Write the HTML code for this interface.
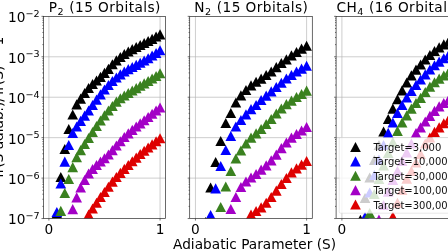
<!DOCTYPE html>
<html><head><meta charset="utf-8"><title>Adiabatic parameter plots</title>
<style>html,body{margin:0;padding:0;background:#fff;overflow:hidden}svg{display:block}</style></head>
<body>
<svg width="448" height="252" viewBox="0 0 448 252" style="display:block">
<rect width="448" height="252" fill="#fff"/>
<defs>
<clipPath id="c0"><rect x="43.50" y="16.35" width="122.05" height="202.20"/></clipPath>
<clipPath id="c1"><rect x="189.70" y="16.35" width="122.60" height="202.20"/></clipPath>
<clipPath id="c2"><rect x="336.10" y="16.35" width="122.50" height="202.20"/></clipPath>
</defs>
<path d="M43.50,178.11H165.55M43.50,137.67H165.55M43.50,97.23H165.55M43.50,56.79H165.55M48.90,16.35V218.55M160.05,16.35V218.55" stroke="#b4b4b4" stroke-width="0.65" fill="none"/>
<g clip-path="url(#c0)">
<polygon points="56.84,208.50 51.49,218.60 62.19,218.60" fill="#000000"/>
<polygon points="60.81,172.00 55.46,182.10 66.16,182.10" fill="#000000"/>
<polygon points="64.78,144.00 59.43,154.10 70.13,154.10" fill="#000000"/>
<polygon points="68.75,124.00 63.40,134.10 74.10,134.10" fill="#000000"/>
<polygon points="72.72,109.50 67.37,119.60 78.07,119.60" fill="#000000"/>
<polygon points="76.69,99.30 71.34,109.40 82.04,109.40" fill="#000000"/>
<polygon points="80.66,93.60 75.31,103.70 86.01,103.70" fill="#000000"/>
<polygon points="84.63,87.90 79.28,98.00 89.98,98.00" fill="#000000"/>
<polygon points="88.60,83.00 83.25,93.10 93.95,93.10" fill="#000000"/>
<polygon points="92.57,79.00 87.22,89.10 97.92,89.10" fill="#000000"/>
<polygon points="96.54,75.40 91.19,85.50 101.89,85.50" fill="#000000"/>
<polygon points="100.51,71.80 95.16,81.90 105.86,81.90" fill="#000000"/>
<polygon points="104.47,67.80 99.12,77.90 109.82,77.90" fill="#000000"/>
<polygon points="108.44,63.80 103.09,73.90 113.79,73.90" fill="#000000"/>
<polygon points="112.41,59.20 107.06,69.30 117.76,69.30" fill="#000000"/>
<polygon points="116.38,55.30 111.03,65.40 121.73,65.40" fill="#000000"/>
<polygon points="120.35,52.00 115.00,62.10 125.70,62.10" fill="#000000"/>
<polygon points="124.32,49.00 118.97,59.10 129.67,59.10" fill="#000000"/>
<polygon points="128.29,46.40 122.94,56.50 133.64,56.50" fill="#000000"/>
<polygon points="132.26,44.10 126.91,54.20 137.61,54.20" fill="#000000"/>
<polygon points="136.23,42.00 130.88,52.10 141.58,52.10" fill="#000000"/>
<polygon points="140.20,40.00 134.85,50.10 145.55,50.10" fill="#000000"/>
<polygon points="144.17,38.00 138.82,48.10 149.52,48.10" fill="#000000"/>
<polygon points="148.14,36.00 142.79,46.10 153.49,46.10" fill="#000000"/>
<polygon points="152.11,33.80 146.76,43.90 157.46,43.90" fill="#000000"/>
<polygon points="156.08,31.50 150.73,41.60 161.43,41.60" fill="#000000"/>
<polygon points="160.05,29.30 154.70,39.40 165.40,39.40" fill="#000000"/>
<polygon points="56.84,206.90 51.49,217.00 62.19,217.00" fill="#0000ff"/>
<polygon points="60.81,178.40 55.46,188.50 66.16,188.50" fill="#0000ff"/>
<polygon points="64.78,156.60 59.43,166.70 70.13,166.70" fill="#0000ff"/>
<polygon points="68.75,139.90 63.40,150.00 74.10,150.00" fill="#0000ff"/>
<polygon points="72.72,128.00 67.37,138.10 78.07,138.10" fill="#0000ff"/>
<polygon points="76.69,121.40 71.34,131.50 82.04,131.50" fill="#0000ff"/>
<polygon points="80.66,115.80 75.31,125.90 86.01,125.90" fill="#0000ff"/>
<polygon points="84.63,110.60 79.28,120.70 89.98,120.70" fill="#0000ff"/>
<polygon points="88.60,105.40 83.25,115.50 93.95,115.50" fill="#0000ff"/>
<polygon points="92.57,100.00 87.22,110.10 97.92,110.10" fill="#0000ff"/>
<polygon points="96.54,94.60 91.19,104.70 101.89,104.70" fill="#0000ff"/>
<polygon points="100.51,89.30 95.16,99.40 105.86,99.40" fill="#0000ff"/>
<polygon points="104.47,84.40 99.12,94.50 109.82,94.50" fill="#0000ff"/>
<polygon points="108.44,80.00 103.09,90.10 113.79,90.10" fill="#0000ff"/>
<polygon points="112.41,76.00 107.06,86.10 117.76,86.10" fill="#0000ff"/>
<polygon points="116.38,72.50 111.03,82.60 121.73,82.60" fill="#0000ff"/>
<polygon points="120.35,69.30 115.00,79.40 125.70,79.40" fill="#0000ff"/>
<polygon points="124.32,66.40 118.97,76.50 129.67,76.50" fill="#0000ff"/>
<polygon points="128.29,64.10 122.94,74.20 133.64,74.20" fill="#0000ff"/>
<polygon points="132.26,62.00 126.91,72.10 137.61,72.10" fill="#0000ff"/>
<polygon points="136.23,59.80 130.88,69.90 141.58,69.90" fill="#0000ff"/>
<polygon points="140.20,57.70 134.85,67.80 145.55,67.80" fill="#0000ff"/>
<polygon points="144.17,55.40 138.82,65.50 149.52,65.50" fill="#0000ff"/>
<polygon points="148.14,53.20 142.79,63.30 153.49,63.30" fill="#0000ff"/>
<polygon points="152.11,50.50 146.76,60.60 157.46,60.60" fill="#0000ff"/>
<polygon points="156.08,48.00 150.73,58.10 161.43,58.10" fill="#0000ff"/>
<polygon points="160.05,45.20 154.70,55.30 165.40,55.30" fill="#0000ff"/>
<polygon points="60.81,205.80 55.46,215.90 66.16,215.90" fill="#3a811f"/>
<polygon points="64.78,188.00 59.43,198.10 70.13,198.10" fill="#3a811f"/>
<polygon points="68.75,173.90 63.40,184.00 74.10,184.00" fill="#3a811f"/>
<polygon points="72.72,162.10 67.37,172.20 78.07,172.20" fill="#3a811f"/>
<polygon points="76.69,152.20 71.34,162.30 82.04,162.30" fill="#3a811f"/>
<polygon points="80.66,145.10 75.31,155.20 86.01,155.20" fill="#3a811f"/>
<polygon points="84.63,139.00 79.28,149.10 89.98,149.10" fill="#3a811f"/>
<polygon points="88.60,132.90 83.25,143.00 93.95,143.00" fill="#3a811f"/>
<polygon points="92.57,127.00 87.22,137.10 97.92,137.10" fill="#3a811f"/>
<polygon points="96.54,121.00 91.19,131.10 101.89,131.10" fill="#3a811f"/>
<polygon points="100.51,115.50 95.16,125.60 105.86,125.60" fill="#3a811f"/>
<polygon points="104.47,110.30 99.12,120.40 109.82,120.40" fill="#3a811f"/>
<polygon points="108.44,105.50 103.09,115.60 113.79,115.60" fill="#3a811f"/>
<polygon points="112.41,101.00 107.06,111.10 117.76,111.10" fill="#3a811f"/>
<polygon points="116.38,96.60 111.03,106.70 121.73,106.70" fill="#3a811f"/>
<polygon points="120.35,93.20 115.00,103.30 125.70,103.30" fill="#3a811f"/>
<polygon points="124.32,90.50 118.97,100.60 129.67,100.60" fill="#3a811f"/>
<polygon points="128.29,87.90 122.94,98.00 133.64,98.00" fill="#3a811f"/>
<polygon points="132.26,85.50 126.91,95.60 137.61,95.60" fill="#3a811f"/>
<polygon points="136.23,83.10 130.88,93.20 141.58,93.20" fill="#3a811f"/>
<polygon points="140.20,80.70 134.85,90.80 145.55,90.80" fill="#3a811f"/>
<polygon points="144.17,78.30 138.82,88.40 149.52,88.40" fill="#3a811f"/>
<polygon points="148.14,75.90 142.79,86.00 153.49,86.00" fill="#3a811f"/>
<polygon points="152.11,73.50 146.76,83.60 157.46,83.60" fill="#3a811f"/>
<polygon points="156.08,71.00 150.73,81.10 161.43,81.10" fill="#3a811f"/>
<polygon points="160.05,68.20 154.70,78.30 165.40,78.30" fill="#3a811f"/>
<polygon points="72.72,204.10 67.37,214.20 78.07,214.20" fill="#a300c6"/>
<polygon points="76.69,192.30 71.34,202.40 82.04,202.40" fill="#a300c6"/>
<polygon points="80.66,182.50 75.31,192.60 86.01,192.60" fill="#a300c6"/>
<polygon points="84.63,175.00 79.28,185.10 89.98,185.10" fill="#a300c6"/>
<polygon points="88.60,168.50 83.25,178.60 93.95,178.60" fill="#a300c6"/>
<polygon points="92.57,163.90 87.22,174.00 97.92,174.00" fill="#a300c6"/>
<polygon points="96.54,160.00 91.19,170.10 101.89,170.10" fill="#a300c6"/>
<polygon points="100.51,156.44 95.16,166.54 105.86,166.54" fill="#a300c6"/>
<polygon points="104.47,153.13 99.12,163.23 109.82,163.23" fill="#a300c6"/>
<polygon points="108.44,149.50 103.09,159.60 113.79,159.60" fill="#a300c6"/>
<polygon points="112.41,145.10 107.06,155.20 117.76,155.20" fill="#a300c6"/>
<polygon points="116.38,140.50 111.03,150.60 121.73,150.60" fill="#a300c6"/>
<polygon points="120.35,136.13 115.00,146.23 125.70,146.23" fill="#a300c6"/>
<polygon points="124.32,132.00 118.97,142.10 129.67,142.10" fill="#a300c6"/>
<polygon points="128.29,128.28 122.94,138.38 133.64,138.38" fill="#a300c6"/>
<polygon points="132.26,124.80 126.91,134.90 137.61,134.90" fill="#a300c6"/>
<polygon points="136.23,121.50 130.88,131.60 141.58,131.60" fill="#a300c6"/>
<polygon points="140.20,118.30 134.85,128.40 145.55,128.40" fill="#a300c6"/>
<polygon points="144.17,115.16 138.82,125.26 149.52,125.26" fill="#a300c6"/>
<polygon points="148.14,112.00 142.79,122.10 153.49,122.10" fill="#a300c6"/>
<polygon points="152.11,108.68 146.76,118.78 157.46,118.78" fill="#a300c6"/>
<polygon points="156.08,105.40 150.73,115.50 161.43,115.50" fill="#a300c6"/>
<polygon points="160.05,102.40 154.70,112.50 165.40,112.50" fill="#a300c6"/>
<polygon points="88.60,209.40 83.25,219.50 93.95,219.50" fill="#de0000"/>
<polygon points="92.57,203.50 87.22,213.60 97.92,213.60" fill="#de0000"/>
<polygon points="96.54,197.70 91.19,207.80 101.89,207.80" fill="#de0000"/>
<polygon points="100.51,192.00 95.16,202.10 105.86,202.10" fill="#de0000"/>
<polygon points="104.47,187.00 99.12,197.10 109.82,197.10" fill="#de0000"/>
<polygon points="108.44,181.70 103.09,191.80 113.79,191.80" fill="#de0000"/>
<polygon points="112.41,176.60 107.06,186.70 117.76,186.70" fill="#de0000"/>
<polygon points="116.38,172.00 111.03,182.10 121.73,182.10" fill="#de0000"/>
<polygon points="120.35,167.81 115.00,177.91 125.70,177.91" fill="#de0000"/>
<polygon points="124.32,163.85 118.97,173.95 129.67,173.95" fill="#de0000"/>
<polygon points="128.29,160.00 122.94,170.10 133.64,170.10" fill="#de0000"/>
<polygon points="132.26,156.21 126.91,166.31 137.61,166.31" fill="#de0000"/>
<polygon points="136.23,152.53 130.88,162.63 141.58,162.63" fill="#de0000"/>
<polygon points="140.20,149.00 134.85,159.10 145.55,159.10" fill="#de0000"/>
<polygon points="144.17,145.65 138.82,155.75 149.52,155.75" fill="#de0000"/>
<polygon points="148.14,142.44 142.79,152.54 153.49,152.54" fill="#de0000"/>
<polygon points="152.11,139.30 146.76,149.40 157.46,149.40" fill="#de0000"/>
<polygon points="156.08,136.21 150.73,146.31 161.43,146.31" fill="#de0000"/>
<polygon points="160.05,133.20 154.70,143.30 165.40,143.30" fill="#de0000"/>
</g>
<path d="M43.50,218.55h-2M43.50,178.11h-2M43.50,137.67h-2M43.50,97.23h-2M43.50,56.79h-2M43.50,16.35h-2M43.50,206.38h-1.1M43.50,199.26h-1.1M43.50,194.20h-1.1M43.50,190.28h-1.1M43.50,187.08h-1.1M43.50,184.37h-1.1M43.50,182.03h-1.1M43.50,179.96h-1.1M43.50,165.94h-1.1M43.50,158.82h-1.1M43.50,153.76h-1.1M43.50,149.84h-1.1M43.50,146.64h-1.1M43.50,143.93h-1.1M43.50,141.59h-1.1M43.50,139.52h-1.1M43.50,125.50h-1.1M43.50,118.38h-1.1M43.50,113.32h-1.1M43.50,109.40h-1.1M43.50,106.20h-1.1M43.50,103.49h-1.1M43.50,101.15h-1.1M43.50,99.08h-1.1M43.50,85.06h-1.1M43.50,77.94h-1.1M43.50,72.88h-1.1M43.50,68.96h-1.1M43.50,65.76h-1.1M43.50,63.05h-1.1M43.50,60.71h-1.1M43.50,58.64h-1.1M43.50,44.62h-1.1M43.50,37.50h-1.1M43.50,32.44h-1.1M43.50,28.52h-1.1M43.50,25.32h-1.1M43.50,22.61h-1.1M43.50,20.27h-1.1M43.50,18.20h-1.1M48.90,218.55v2M160.05,218.55v2" stroke="#111" stroke-width="0.6" fill="none"/>
<rect x="43.50" y="16.35" width="122.05" height="202.20" fill="none" stroke="#2a2a2a" stroke-width="0.7"/>
<text x="104.83" y="11.7" text-anchor="middle" letter-spacing="0.43" font-family="DejaVu Sans, Liberation Sans, sans-serif" font-size="13.7" fill="#000">P<tspan font-size="9.59" dy="2.9">2</tspan><tspan dy="-2.9" dx="0.5"> (15 Orbitals)</tspan></text>
<text x="48.90" y="233.5" text-anchor="middle" font-family="DejaVu Sans, Liberation Sans, sans-serif" font-size="13.7" fill="#000">0</text>
<text x="160.05" y="233.5" text-anchor="middle" font-family="DejaVu Sans, Liberation Sans, sans-serif" font-size="13.7" fill="#000">1</text>
<path d="M189.70,178.11H312.30M189.70,137.67H312.30M189.70,97.23H312.30M189.70,56.79H312.30M195.45,16.35V218.55M306.60,16.35V218.55" stroke="#b4b4b4" stroke-width="0.65" fill="none"/>
<g clip-path="url(#c1)">
<polygon points="205.55,217.00 200.20,227.10 210.90,227.10" fill="#000000"/>
<polygon points="210.61,182.50 205.26,192.60 215.96,192.60" fill="#000000"/>
<polygon points="215.66,157.00 210.31,167.10 221.01,167.10" fill="#000000"/>
<polygon points="220.71,136.00 215.36,146.10 226.06,146.10" fill="#000000"/>
<polygon points="225.76,118.00 220.41,128.10 231.11,128.10" fill="#000000"/>
<polygon points="230.82,108.00 225.47,118.10 236.17,118.10" fill="#000000"/>
<polygon points="235.87,97.40 230.52,107.50 241.22,107.50" fill="#000000"/>
<polygon points="240.92,90.30 235.57,100.40 246.27,100.40" fill="#000000"/>
<polygon points="245.97,84.90 240.62,95.00 251.32,95.00" fill="#000000"/>
<polygon points="251.02,80.30 245.67,90.40 256.38,90.40" fill="#000000"/>
<polygon points="256.08,76.70 250.73,86.80 261.43,86.80" fill="#000000"/>
<polygon points="261.13,73.60 255.78,83.70 266.48,83.70" fill="#000000"/>
<polygon points="266.18,70.00 260.83,80.10 271.53,80.10" fill="#000000"/>
<polygon points="271.23,66.40 265.88,76.50 276.58,76.50" fill="#000000"/>
<polygon points="276.29,62.10 270.94,72.20 281.64,72.20" fill="#000000"/>
<polygon points="281.34,57.90 275.99,68.00 286.69,68.00" fill="#000000"/>
<polygon points="286.39,54.30 281.04,64.40 291.74,64.40" fill="#000000"/>
<polygon points="291.44,50.30 286.09,60.40 296.79,60.40" fill="#000000"/>
<polygon points="296.50,46.90 291.15,57.00 301.85,57.00" fill="#000000"/>
<polygon points="301.55,43.60 296.20,53.70 306.90,53.70" fill="#000000"/>
<polygon points="306.60,40.70 301.25,50.80 311.95,50.80" fill="#000000"/>
<polygon points="210.61,209.90 205.26,220.00 215.96,220.00" fill="#0000ff"/>
<polygon points="215.66,183.30 210.31,193.40 221.01,193.40" fill="#0000ff"/>
<polygon points="220.71,161.00 215.36,171.10 226.06,171.10" fill="#0000ff"/>
<polygon points="225.76,145.00 220.41,155.10 231.11,155.10" fill="#0000ff"/>
<polygon points="230.82,131.00 225.47,141.10 236.17,141.10" fill="#0000ff"/>
<polygon points="235.87,121.50 230.52,131.60 241.22,131.60" fill="#0000ff"/>
<polygon points="240.92,115.00 235.57,125.10 246.27,125.10" fill="#0000ff"/>
<polygon points="245.97,109.30 240.62,119.40 251.32,119.40" fill="#0000ff"/>
<polygon points="251.02,104.10 245.67,114.20 256.38,114.20" fill="#0000ff"/>
<polygon points="256.08,99.90 250.73,110.00 261.43,110.00" fill="#0000ff"/>
<polygon points="261.13,94.90 255.78,105.00 266.48,105.00" fill="#0000ff"/>
<polygon points="266.18,90.60 260.83,100.70 271.53,100.70" fill="#0000ff"/>
<polygon points="271.23,86.30 265.88,96.40 276.58,96.40" fill="#0000ff"/>
<polygon points="276.29,82.00 270.94,92.10 281.64,92.10" fill="#0000ff"/>
<polygon points="281.34,77.70 275.99,87.80 286.69,87.80" fill="#0000ff"/>
<polygon points="286.39,73.50 281.04,83.60 291.74,83.60" fill="#0000ff"/>
<polygon points="291.44,70.00 286.09,80.10 296.79,80.10" fill="#0000ff"/>
<polygon points="296.50,66.40 291.15,76.50 301.85,76.50" fill="#0000ff"/>
<polygon points="301.55,63.60 296.20,73.70 306.90,73.70" fill="#0000ff"/>
<polygon points="306.60,60.70 301.25,70.80 311.95,70.80" fill="#0000ff"/>
<polygon points="220.71,201.90 215.36,212.00 226.06,212.00" fill="#3a811f"/>
<polygon points="225.76,181.40 220.41,191.50 231.11,191.50" fill="#3a811f"/>
<polygon points="230.82,166.00 225.47,176.10 236.17,176.10" fill="#3a811f"/>
<polygon points="235.87,153.50 230.52,163.60 241.22,163.60" fill="#3a811f"/>
<polygon points="240.92,145.50 235.57,155.60 246.27,155.60" fill="#3a811f"/>
<polygon points="245.97,138.50 240.62,148.60 251.32,148.60" fill="#3a811f"/>
<polygon points="251.02,132.60 245.67,142.70 256.38,142.70" fill="#3a811f"/>
<polygon points="256.08,128.30 250.73,138.40 261.43,138.40" fill="#3a811f"/>
<polygon points="261.13,124.00 255.78,134.10 266.48,134.10" fill="#3a811f"/>
<polygon points="266.18,119.00 260.83,129.10 271.53,129.10" fill="#3a811f"/>
<polygon points="271.23,114.00 265.88,124.10 276.58,124.10" fill="#3a811f"/>
<polygon points="276.29,108.50 270.94,118.60 281.64,118.60" fill="#3a811f"/>
<polygon points="281.34,103.40 275.99,113.50 286.69,113.50" fill="#3a811f"/>
<polygon points="286.39,99.10 281.04,109.20 291.74,109.20" fill="#3a811f"/>
<polygon points="291.44,95.60 286.09,105.70 296.79,105.70" fill="#3a811f"/>
<polygon points="296.50,92.00 291.15,102.10 301.85,102.10" fill="#3a811f"/>
<polygon points="301.55,88.90 296.20,99.00 306.90,99.00" fill="#3a811f"/>
<polygon points="306.60,85.60 301.25,95.70 311.95,95.70" fill="#3a811f"/>
<polygon points="230.82,204.00 225.47,214.10 236.17,214.10" fill="#a300c6"/>
<polygon points="235.87,192.00 230.52,202.10 241.22,202.10" fill="#a300c6"/>
<polygon points="240.92,181.90 235.57,192.00 246.27,192.00" fill="#a300c6"/>
<polygon points="245.97,176.50 240.62,186.60 251.32,186.60" fill="#a300c6"/>
<polygon points="251.02,172.50 245.67,182.60 256.38,182.60" fill="#a300c6"/>
<polygon points="256.08,168.90 250.73,179.00 261.43,179.00" fill="#a300c6"/>
<polygon points="261.13,164.60 255.78,174.70 266.48,174.70" fill="#a300c6"/>
<polygon points="266.18,160.30 260.83,170.40 271.53,170.40" fill="#a300c6"/>
<polygon points="271.23,155.30 265.88,165.40 276.58,165.40" fill="#a300c6"/>
<polygon points="276.29,149.60 270.94,159.70 281.64,159.70" fill="#a300c6"/>
<polygon points="281.34,143.10 275.99,153.20 286.69,153.20" fill="#a300c6"/>
<polygon points="286.39,137.50 281.04,147.60 291.74,147.60" fill="#a300c6"/>
<polygon points="291.44,132.60 286.09,142.70 296.79,142.70" fill="#a300c6"/>
<polygon points="296.50,129.00 291.15,139.10 301.85,139.10" fill="#a300c6"/>
<polygon points="301.55,125.40 296.20,135.50 306.90,135.50" fill="#a300c6"/>
<polygon points="306.60,121.90 301.25,132.00 311.95,132.00" fill="#a300c6"/>
<polygon points="251.02,209.40 245.67,219.50 256.38,219.50" fill="#de0000"/>
<polygon points="256.08,205.90 250.73,216.00 261.43,216.00" fill="#de0000"/>
<polygon points="261.13,202.30 255.78,212.40 266.48,212.40" fill="#de0000"/>
<polygon points="266.18,197.70 260.83,207.80 271.53,207.80" fill="#de0000"/>
<polygon points="271.23,192.00 265.88,202.10 276.58,202.10" fill="#de0000"/>
<polygon points="276.29,185.60 270.94,195.70 281.64,195.70" fill="#de0000"/>
<polygon points="281.34,179.00 275.99,189.10 286.69,189.10" fill="#de0000"/>
<polygon points="286.39,172.90 281.04,183.00 291.74,183.00" fill="#de0000"/>
<polygon points="291.44,167.30 286.09,177.40 296.79,177.40" fill="#de0000"/>
<polygon points="296.50,163.30 291.15,173.40 301.85,173.40" fill="#de0000"/>
<polygon points="301.55,159.60 296.20,169.70 306.90,169.70" fill="#de0000"/>
<polygon points="306.60,156.00 301.25,166.10 311.95,166.10" fill="#de0000"/>
</g>
<path d="M189.70,218.55h-2M189.70,178.11h-2M189.70,137.67h-2M189.70,97.23h-2M189.70,56.79h-2M189.70,16.35h-2M189.70,206.38h-1.1M189.70,199.26h-1.1M189.70,194.20h-1.1M189.70,190.28h-1.1M189.70,187.08h-1.1M189.70,184.37h-1.1M189.70,182.03h-1.1M189.70,179.96h-1.1M189.70,165.94h-1.1M189.70,158.82h-1.1M189.70,153.76h-1.1M189.70,149.84h-1.1M189.70,146.64h-1.1M189.70,143.93h-1.1M189.70,141.59h-1.1M189.70,139.52h-1.1M189.70,125.50h-1.1M189.70,118.38h-1.1M189.70,113.32h-1.1M189.70,109.40h-1.1M189.70,106.20h-1.1M189.70,103.49h-1.1M189.70,101.15h-1.1M189.70,99.08h-1.1M189.70,85.06h-1.1M189.70,77.94h-1.1M189.70,72.88h-1.1M189.70,68.96h-1.1M189.70,65.76h-1.1M189.70,63.05h-1.1M189.70,60.71h-1.1M189.70,58.64h-1.1M189.70,44.62h-1.1M189.70,37.50h-1.1M189.70,32.44h-1.1M189.70,28.52h-1.1M189.70,25.32h-1.1M189.70,22.61h-1.1M189.70,20.27h-1.1M189.70,18.20h-1.1M195.45,218.55v2M306.60,218.55v2" stroke="#111" stroke-width="0.6" fill="none"/>
<rect x="189.70" y="16.35" width="122.60" height="202.20" fill="none" stroke="#2a2a2a" stroke-width="0.7"/>
<text x="251.30" y="11.7" text-anchor="middle" letter-spacing="0.43" font-family="DejaVu Sans, Liberation Sans, sans-serif" font-size="13.7" fill="#000">N<tspan font-size="9.59" dy="2.9">2</tspan><tspan dy="-2.9" dx="0.5"> (15 Orbitals)</tspan></text>
<text x="195.45" y="233.5" text-anchor="middle" font-family="DejaVu Sans, Liberation Sans, sans-serif" font-size="13.7" fill="#000">0</text>
<text x="306.60" y="233.5" text-anchor="middle" font-family="DejaVu Sans, Liberation Sans, sans-serif" font-size="13.7" fill="#000">1</text>
<path d="M336.10,178.11H458.60M336.10,137.67H458.60M336.10,97.23H458.60M336.10,56.79H458.60M341.90,16.35V218.55M453.05,16.35V218.55" stroke="#b4b4b4" stroke-width="0.65" fill="none"/>
<g clip-path="url(#c2)">
<polygon points="360.42,214.80 355.07,224.90 365.77,224.90" fill="#000000"/>
<polygon points="365.06,192.90 359.71,203.00 370.41,203.00" fill="#000000"/>
<polygon points="369.69,172.50 364.34,182.60 375.04,182.60" fill="#000000"/>
<polygon points="374.32,155.00 368.97,165.10 379.67,165.10" fill="#000000"/>
<polygon points="378.95,140.00 373.60,150.10 384.30,150.10" fill="#000000"/>
<polygon points="383.58,126.40 378.23,136.50 388.93,136.50" fill="#000000"/>
<polygon points="388.21,114.00 382.86,124.10 393.56,124.10" fill="#000000"/>
<polygon points="392.84,103.60 387.49,113.70 398.19,113.70" fill="#000000"/>
<polygon points="397.47,94.20 392.12,104.30 402.82,104.30" fill="#000000"/>
<polygon points="402.11,85.30 396.76,95.40 407.46,95.40" fill="#000000"/>
<polygon points="406.74,77.40 401.39,87.50 412.09,87.50" fill="#000000"/>
<polygon points="411.37,70.30 406.02,80.40 416.72,80.40" fill="#000000"/>
<polygon points="416.00,64.60 410.65,74.70 421.35,74.70" fill="#000000"/>
<polygon points="420.63,59.40 415.28,69.50 425.98,69.50" fill="#000000"/>
<polygon points="425.26,54.50 419.91,64.60 430.61,64.60" fill="#000000"/>
<polygon points="429.89,50.00 424.54,60.10 435.24,60.10" fill="#000000"/>
<polygon points="434.52,45.90 429.17,56.00 439.88,56.00" fill="#000000"/>
<polygon points="439.16,42.30 433.81,52.40 444.51,52.40" fill="#000000"/>
<polygon points="443.79,39.30 438.44,49.40 449.14,49.40" fill="#000000"/>
<polygon points="448.42,36.60 443.07,46.70 453.77,46.70" fill="#000000"/>
<polygon points="453.05,34.20 447.70,44.30 458.40,44.30" fill="#000000"/>
<polygon points="365.06,211.80 359.71,221.90 370.41,221.90" fill="#0000ff"/>
<polygon points="369.69,187.40 364.34,197.50 375.04,197.50" fill="#0000ff"/>
<polygon points="374.32,170.00 368.97,180.10 379.67,180.10" fill="#0000ff"/>
<polygon points="378.95,154.60 373.60,164.70 384.30,164.70" fill="#0000ff"/>
<polygon points="383.58,140.00 378.23,150.10 388.93,150.10" fill="#0000ff"/>
<polygon points="388.21,127.80 382.86,137.90 393.56,137.90" fill="#0000ff"/>
<polygon points="392.84,117.50 387.49,127.60 398.19,127.60" fill="#0000ff"/>
<polygon points="397.47,108.00 392.12,118.10 402.82,118.10" fill="#0000ff"/>
<polygon points="402.11,100.00 396.76,110.10 407.46,110.10" fill="#0000ff"/>
<polygon points="406.74,92.40 401.39,102.50 412.09,102.50" fill="#0000ff"/>
<polygon points="411.37,86.00 406.02,96.10 416.72,96.10" fill="#0000ff"/>
<polygon points="416.00,80.00 410.65,90.10 421.35,90.10" fill="#0000ff"/>
<polygon points="420.63,74.50 415.28,84.60 425.98,84.60" fill="#0000ff"/>
<polygon points="425.26,69.30 419.91,79.40 430.61,79.40" fill="#0000ff"/>
<polygon points="429.89,64.40 424.54,74.50 435.24,74.50" fill="#0000ff"/>
<polygon points="434.52,60.20 429.17,70.30 439.88,70.30" fill="#0000ff"/>
<polygon points="439.16,56.60 433.81,66.70 444.51,66.70" fill="#0000ff"/>
<polygon points="443.79,53.20 438.44,63.30 449.14,63.30" fill="#0000ff"/>
<polygon points="448.42,50.20 443.07,60.30 453.77,60.30" fill="#0000ff"/>
<polygon points="453.05,47.50 447.70,57.60 458.40,57.60" fill="#0000ff"/>
<polygon points="369.69,207.90 364.34,218.00 375.04,218.00" fill="#3a811f"/>
<polygon points="374.32,189.00 368.97,199.10 379.67,199.10" fill="#3a811f"/>
<polygon points="378.95,174.00 373.60,184.10 384.30,184.10" fill="#3a811f"/>
<polygon points="383.58,160.50 378.23,170.60 388.93,170.60" fill="#3a811f"/>
<polygon points="388.21,148.00 382.86,158.10 393.56,158.10" fill="#3a811f"/>
<polygon points="392.84,137.00 387.49,147.10 398.19,147.10" fill="#3a811f"/>
<polygon points="397.47,125.80 392.12,135.90 402.82,135.90" fill="#3a811f"/>
<polygon points="402.11,117.50 396.76,127.60 407.46,127.60" fill="#3a811f"/>
<polygon points="406.74,110.30 401.39,120.40 412.09,120.40" fill="#3a811f"/>
<polygon points="411.37,103.60 406.02,113.70 416.72,113.70" fill="#3a811f"/>
<polygon points="416.00,98.00 410.65,108.10 421.35,108.10" fill="#3a811f"/>
<polygon points="420.63,92.80 415.28,102.90 425.98,102.90" fill="#3a811f"/>
<polygon points="425.26,87.00 419.91,97.10 430.61,97.10" fill="#3a811f"/>
<polygon points="429.89,81.60 424.54,91.70 435.24,91.70" fill="#3a811f"/>
<polygon points="434.52,77.20 429.17,87.30 439.88,87.30" fill="#3a811f"/>
<polygon points="439.16,73.60 433.81,83.70 444.51,83.70" fill="#3a811f"/>
<polygon points="443.79,70.40 438.44,80.50 449.14,80.50" fill="#3a811f"/>
<polygon points="448.42,67.50 443.07,77.60 453.77,77.60" fill="#3a811f"/>
<polygon points="453.05,65.00 447.70,75.10 458.40,75.10" fill="#3a811f"/>
<polygon points="378.95,214.60 373.60,224.70 384.30,224.70" fill="#a300c6"/>
<polygon points="383.58,200.00 378.23,210.10 388.93,210.10" fill="#a300c6"/>
<polygon points="388.21,186.60 382.86,196.70 393.56,196.70" fill="#a300c6"/>
<polygon points="392.84,175.00 387.49,185.10 398.19,185.10" fill="#a300c6"/>
<polygon points="397.47,166.00 392.12,176.10 402.82,176.10" fill="#a300c6"/>
<polygon points="402.11,156.00 396.76,166.10 407.46,166.10" fill="#a300c6"/>
<polygon points="406.74,147.40 401.39,157.50 412.09,157.50" fill="#a300c6"/>
<polygon points="411.37,138.50 406.02,148.60 416.72,148.60" fill="#a300c6"/>
<polygon points="416.00,128.00 410.65,138.10 421.35,138.10" fill="#a300c6"/>
<polygon points="420.63,122.30 415.28,132.40 425.98,132.40" fill="#a300c6"/>
<polygon points="425.26,116.50 419.91,126.60 430.61,126.60" fill="#a300c6"/>
<polygon points="429.89,110.80 424.54,120.90 435.24,120.90" fill="#a300c6"/>
<polygon points="434.52,105.80 429.17,115.90 439.88,115.90" fill="#a300c6"/>
<polygon points="439.16,101.30 433.81,111.40 444.51,111.40" fill="#a300c6"/>
<polygon points="443.79,98.00 438.44,108.10 449.14,108.10" fill="#a300c6"/>
<polygon points="448.42,95.00 443.07,105.10 453.77,105.10" fill="#a300c6"/>
<polygon points="453.05,92.20 447.70,102.30 458.40,102.30" fill="#a300c6"/>
<polygon points="392.84,211.50 387.49,221.60 398.19,221.60" fill="#de0000"/>
<polygon points="397.47,197.70 392.12,207.80 402.82,207.80" fill="#de0000"/>
<polygon points="402.11,185.00 396.76,195.10 407.46,195.10" fill="#de0000"/>
<polygon points="406.74,173.70 401.39,183.80 412.09,183.80" fill="#de0000"/>
<polygon points="411.37,166.00 406.02,176.10 416.72,176.10" fill="#de0000"/>
<polygon points="416.00,157.40 410.65,167.50 421.35,167.50" fill="#de0000"/>
<polygon points="420.63,148.90 415.28,159.00 425.98,159.00" fill="#de0000"/>
<polygon points="425.26,138.50 419.91,148.60 430.61,148.60" fill="#de0000"/>
<polygon points="429.89,132.50 424.54,142.60 435.24,142.60" fill="#de0000"/>
<polygon points="434.52,126.80 429.17,136.90 439.88,136.90" fill="#de0000"/>
<polygon points="439.16,122.30 433.81,132.40 444.51,132.40" fill="#de0000"/>
<polygon points="443.79,118.20 438.44,128.30 449.14,128.30" fill="#de0000"/>
<polygon points="448.42,114.80 443.07,124.90 453.77,124.90" fill="#de0000"/>
<polygon points="453.05,112.00 447.70,122.10 458.40,122.10" fill="#de0000"/>
</g>
<path d="M336.10,218.55h-2M336.10,178.11h-2M336.10,137.67h-2M336.10,97.23h-2M336.10,56.79h-2M336.10,16.35h-2M336.10,206.38h-1.1M336.10,199.26h-1.1M336.10,194.20h-1.1M336.10,190.28h-1.1M336.10,187.08h-1.1M336.10,184.37h-1.1M336.10,182.03h-1.1M336.10,179.96h-1.1M336.10,165.94h-1.1M336.10,158.82h-1.1M336.10,153.76h-1.1M336.10,149.84h-1.1M336.10,146.64h-1.1M336.10,143.93h-1.1M336.10,141.59h-1.1M336.10,139.52h-1.1M336.10,125.50h-1.1M336.10,118.38h-1.1M336.10,113.32h-1.1M336.10,109.40h-1.1M336.10,106.20h-1.1M336.10,103.49h-1.1M336.10,101.15h-1.1M336.10,99.08h-1.1M336.10,85.06h-1.1M336.10,77.94h-1.1M336.10,72.88h-1.1M336.10,68.96h-1.1M336.10,65.76h-1.1M336.10,63.05h-1.1M336.10,60.71h-1.1M336.10,58.64h-1.1M336.10,44.62h-1.1M336.10,37.50h-1.1M336.10,32.44h-1.1M336.10,28.52h-1.1M336.10,25.32h-1.1M336.10,22.61h-1.1M336.10,20.27h-1.1M336.10,18.20h-1.1M341.90,218.55v2M453.05,218.55v2" stroke="#111" stroke-width="0.6" fill="none"/>
<rect x="336.10" y="16.35" width="122.50" height="202.20" fill="none" stroke="#2a2a2a" stroke-width="0.7"/>
<text x="398.65" y="11.7" text-anchor="middle" letter-spacing="0.43" font-family="DejaVu Sans, Liberation Sans, sans-serif" font-size="13.7" fill="#000">CH<tspan font-size="9.59" dy="2.9">4</tspan><tspan dy="-2.9" dx="0.5"> (16 Orbitals)</tspan></text>
<text x="341.90" y="233.5" text-anchor="middle" font-family="DejaVu Sans, Liberation Sans, sans-serif" font-size="13.7" fill="#000">0</text>
<text x="453.05" y="233.5" text-anchor="middle" font-family="DejaVu Sans, Liberation Sans, sans-serif" font-size="13.7" fill="#000">1</text>
<text x="39.5" y="224.45" text-anchor="end" font-family="DejaVu Sans, Liberation Sans, sans-serif" font-size="13.7" fill="#000">10<tspan font-size="9.59" dy="-5.3">−7</tspan></text>
<text x="39.5" y="184.01" text-anchor="end" font-family="DejaVu Sans, Liberation Sans, sans-serif" font-size="13.7" fill="#000">10<tspan font-size="9.59" dy="-5.3">−6</tspan></text>
<text x="39.5" y="143.57" text-anchor="end" font-family="DejaVu Sans, Liberation Sans, sans-serif" font-size="13.7" fill="#000">10<tspan font-size="9.59" dy="-5.3">−5</tspan></text>
<text x="39.5" y="103.13" text-anchor="end" font-family="DejaVu Sans, Liberation Sans, sans-serif" font-size="13.7" fill="#000">10<tspan font-size="9.59" dy="-5.3">−4</tspan></text>
<text x="39.5" y="62.69" text-anchor="end" font-family="DejaVu Sans, Liberation Sans, sans-serif" font-size="13.7" fill="#000">10<tspan font-size="9.59" dy="-5.3">−3</tspan></text>
<text x="39.5" y="22.25" text-anchor="end" font-family="DejaVu Sans, Liberation Sans, sans-serif" font-size="13.7" fill="#000">10<tspan font-size="9.59" dy="-5.3">−2</tspan></text>
<text x="254.6" y="248.5" text-anchor="middle" font-family="DejaVu Sans, Liberation Sans, sans-serif" font-size="13.7" fill="#000">Adiabatic Parameter (S)</text>
<text transform="translate(3.0,108.3) rotate(-90)" text-anchor="middle" font-family="DejaVu Sans, Liberation Sans, sans-serif" font-size="13.7" fill="#000">Tr(S adiab.)/Tr(S) − 1</text>
<rect x="339.2" y="137.6" width="120" height="75.6" rx="1.5" fill="#fff" fill-opacity="0.8" stroke="#ccc" stroke-opacity="0.8" stroke-width="0.6"/>
<polygon points="355.50,141.90 350.15,152.00 360.85,152.00" fill="#000000"/>
<text x="373.4" y="150.90" font-family="DejaVu Sans, Liberation Sans, sans-serif" font-size="10" fill="#111">Target=3,000</text>
<polygon points="355.50,156.30 350.15,166.40 360.85,166.40" fill="#0000ff"/>
<text x="373.4" y="165.30" font-family="DejaVu Sans, Liberation Sans, sans-serif" font-size="10" fill="#111">Target=10,000</text>
<polygon points="355.50,170.70 350.15,180.80 360.85,180.80" fill="#3a811f"/>
<text x="373.4" y="179.70" font-family="DejaVu Sans, Liberation Sans, sans-serif" font-size="10" fill="#111">Target=30,000</text>
<polygon points="355.50,185.10 350.15,195.20 360.85,195.20" fill="#a300c6"/>
<text x="373.4" y="194.10" font-family="DejaVu Sans, Liberation Sans, sans-serif" font-size="10" fill="#111">Target=100,000</text>
<polygon points="355.50,199.50 350.15,209.60 360.85,209.60" fill="#de0000"/>
<text x="373.4" y="208.50" font-family="DejaVu Sans, Liberation Sans, sans-serif" font-size="10" fill="#111">Target=300,000</text>
</svg>
</body></html>
